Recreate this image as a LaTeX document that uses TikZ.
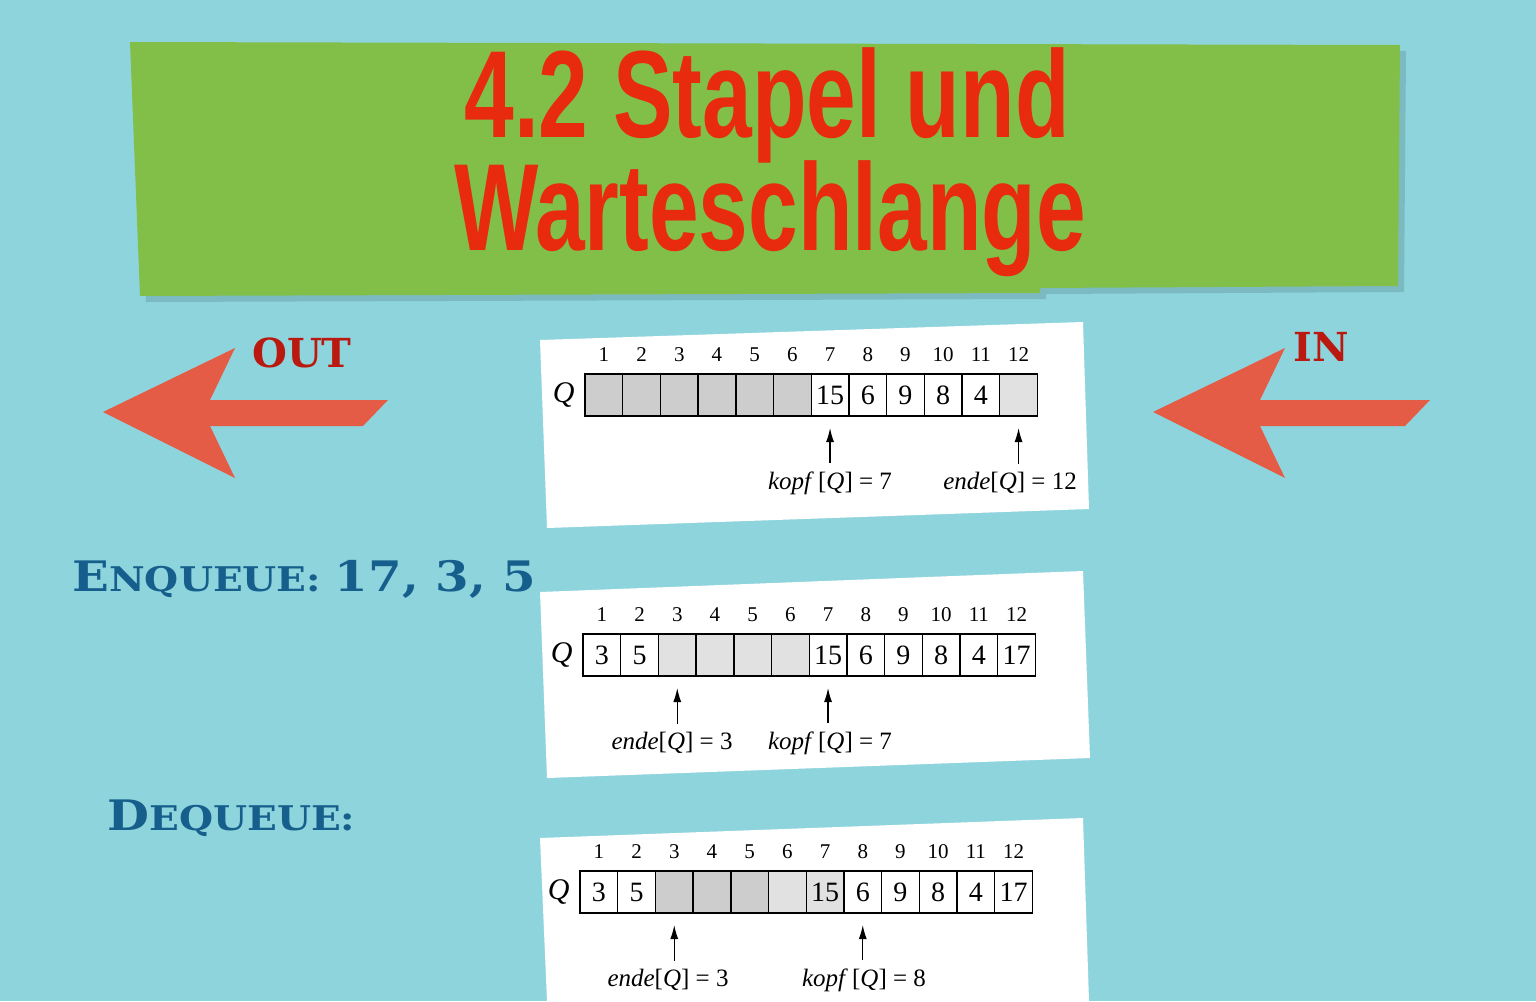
\documentclass[tikz,border=0pt]{standalone}
\usepackage{fontspec}
\setmainfont{Liberation Serif}
\newfontfamily\titlefont{Liberation Sans}
\newfontfamily\capsfont{DejaVu Serif}
\usetikzlibrary{calc,arrows,arrows.meta,positioning}

\definecolor{paper}{RGB}{142,212,221}
\definecolor{banner}{RGB}{130,191,72}
\definecolor{titlered}{RGB}{232,42,14}
\definecolor{arrowred}{RGB}{229,92,70}
\definecolor{inoutred}{RGB}{185,25,15}
\definecolor{opblue}{RGB}{22,95,140}
\definecolor{sd}{RGB}{205,205,205}
\definecolor{sl}{RGB}{225,225,225}

\begin{document}
\begin{tikzpicture}
  [x=0.5pt,y=-0.5pt,>={Latex[length=7pt,width=4pt]}]

% define styles
\tikzstyle{cell} = [draw, rectangle, line width=0.7pt, minimum width=18.85pt, minimum height=21pt, inner sep=0pt, outer sep=0pt, font=\fontsize{14}{14}\selectfont];
\tikzstyle{idx} = [inner sep=0pt, font=\fontsize{10.5}{10.5}\selectfont];
\tikzstyle{ptr} = [inner sep=1pt, font=\fontsize{12.5}{12.5}\selectfont];
\tikzstyle{qarrow} = [->, line width=0.6pt, shorten <=3pt, shorten >=6pt];
\tikzstyle{panel} = [fill=white];
\tikzstyle{bigarrow} = [fill=arrowred];
\tikzstyle{inout} = [text=inoutred, inner sep=0pt, font=\capsfont\bfseries\fontsize{20}{20}\selectfont];
\tikzstyle{op} = [text=opblue, inner sep=0pt, anchor=base west, font=\capsfont\bfseries];
\tikzstyle{titletext} = [text=titlered, inner sep=0pt, anchor=base, font=\titlefont\bfseries\fontsize{62}{62}\selectfont];

% define new commands
\newcommand{\bigArrow}[3]{% tip x, tip y, length
  \fill[bigarrow] (#1,#2) -- ++(132,-64) -- ++(-25,52) -- ++(#3-107,0)
    -- ++(-25,26) -- ++({132-#3},0) -- ++(25,52) -- cycle;
}

\newcommand{\drawQueue}[3]{% name, left edge of array, value/fill list
  \foreach [count=\i] \v/\f in {#3}{
    \node[cell, fill=\f] (#1c\i) at ($(#2)+(\i*37.7-18.85,0)$) {\v};
    \node[idx, above=6pt of #1c\i] (#1n\i) {\i};
  }
  \node[inner sep=0pt, font=\itshape\fontsize{15}{15}\selectfont, left=5pt of #1c1] (#1q) {Q};
}

% background
\useasboundingbox (0,0) rectangle (1536,1001);
\fill[paper] (0,0) rectangle (1536,1001);

% title banner
\fill[black, opacity=0.12] (136,48) -- (1406,51) -- (1404,292) -- (1046,294) -- (1046,299) -- (146,302) -- cycle;
\fill[banner] (130,42) -- (1400,45) -- (1398,286) -- (1040,288) -- (1040,293) -- (140,296) -- cycle;
\node[titletext] (title1) at (767,137) {\scalebox{0.72}[1]{4.2 Stapel und}};
\node[titletext] (title2) at (770,250) {\scalebox{0.72}[1]{Warteschlange}};

% in / out arrows
\bigArrow{103}{412}{285}
\bigArrow{1153}{412}{277}
\node[inout] (out) at (302,353) {OUT};
\node[inout] (in) at (1321,347) {IN};

% operations
\node[op] (enq) at (72,591) {\scalebox{1.15}[1]{\fontsize{21}{21}\selectfont E\fontsize{17}{17}\selectfont NQUEUE: \fontsize{21}{21}\selectfont 17, 3, 5}};
\node[op] (deq) at (107,830) {\scalebox{1.15}[1]{\fontsize{21}{21}\selectfont D\fontsize{17}{17}\selectfont EQUEUE:}};

% panels
\fill[panel] (540,340) -- (1083,322) -- (1089,509) -- (547,528) -- cycle;
\fill[panel] (540,592) -- (1083,571) -- (1090,758) -- (547,778) -- cycle;
\fill[panel] (540,838) -- (1083,818) -- (1089,1001) -- (547,1001) -- cycle;

% queue 1
\coordinate (q1) at (585,395);
\drawQueue{a}{q1}{/sd,/sd,/sd,/sd,/sd,/sd,15/white,6/white,9/white,8/white,4/white,/sl}
\node[ptr] (akopf) at (830,483) {\textit{kopf}\,[\textit{Q}] = 7};
\node[ptr] (aende) at (1010,483) {\textit{ende}[\textit{Q}] = 12};
\draw[qarrow] (akopf.north -| ac7) -- (ac7.south);
\draw[qarrow] (aende.north -| ac12) -- (ac12.south);

% queue 2
\coordinate (q2) at (583,655);
\drawQueue{b}{q2}{3/white,5/white,/sl,/sl,/sl,/sl,15/white,6/white,9/white,8/white,4/white,17/white}
\node[ptr] (bende) at (672,743) {\textit{ende}[\textit{Q}] = 3};
\node[ptr] (bkopf) at (830,743) {\textit{kopf}\,[\textit{Q}] = 7};
\draw[qarrow] (bende.north -| bc3) -- (bc3.south);
\draw[qarrow] (bkopf.north -| bc7) -- (bc7.south);

% queue 3
\coordinate (q3) at (580,892);
\drawQueue{c}{q3}{3/white,5/white,/sd,/sd,/sd,/sl,15/sl,6/white,9/white,8/white,4/white,17/white}
\node[ptr] (cende) at (668,980) {\textit{ende}[\textit{Q}] = 3};
\node[ptr] (ckopf) at (864,980) {\textit{kopf}\,[\textit{Q}] = 8};
\draw[qarrow] (cende.north -| cc3) -- (cc3.south);
\draw[qarrow] (ckopf.north -| cc8) -- (cc8.south);

\end{tikzpicture}
\end{document}
